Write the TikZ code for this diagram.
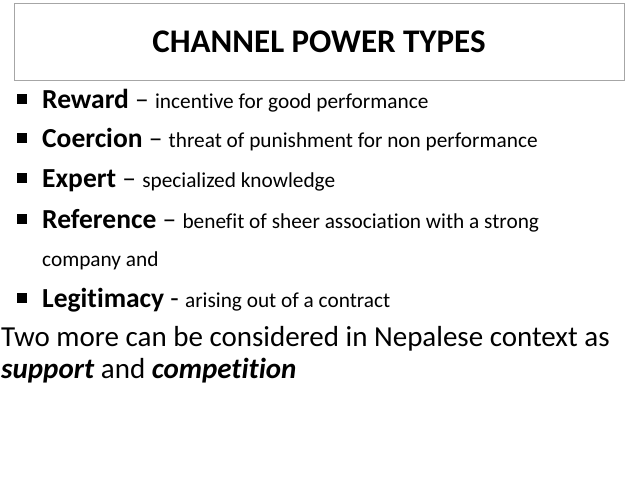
\documentclass[tikz,border=0pt]{standalone}
\usepackage{fontspec}
\setmainfont[RawFeature={-liga;-dlig;-clig}]{Carlito}
\begin{document}
\begin{tikzpicture}[x=1pt,y=-1pt,
  big/.style={anchor=base west,inner sep=0pt,font=\fontsize{27.5}{30}\selectfont},
  small/.style={anchor=base west,inner sep=0pt,font=\fontsize{21.3}{24}\selectfont},
  bul/.style={fill=black,minimum size=9.5pt,inner sep=0pt}]
\useasboundingbox (0,0) rectangle (638,479);
\node[draw=gray!70,line width=0.8pt,minimum width=610pt,minimum height=77pt,inner sep=0pt] (box) at (319,42) {};
\node[font=\fontsize{33}{36}\selectfont\bfseries] (title) at (box.center) {CHANNEL POWER TYPES};
\foreach \n/\y in {1/108,2/147,3/187,4/228,5/307}{\node[bul] (b\n) at (22,\y-9) {};}
\node[big] (r) at (42,108) {\textbf{Reward} – {\fontsize{21.3}{24}\selectfont incentive for good performance}};
\node[big] (c) at (42,147) {\textbf{Coercion} – {\fontsize{21.3}{24}\selectfont threat of punishment for non performance}};
\node[big] (e) at (42,187) {\textbf{Expert} – {\fontsize{21.3}{24}\selectfont specialized knowledge}};
\node[big] (f) at (42,228) {\textbf{Reference} – {\fontsize{21.3}{24}\selectfont benefit of sheer association with a strong}};
\node[small] (f2) at (42,266) {company and};
\node[big] (l) at (42,307) {\textbf{Legitimacy} - {\fontsize{21.3}{24}\selectfont arising out of a contract}};
\node[big,font=\fontsize{29}{32}\selectfont] (t1) at (1,346) {Two more can be considered in Nepalese context as};
\node[big,font=\fontsize{29}{32}\selectfont] (t2) at (1,378) {\textbf{\textit{support}} and \textbf{\textit{competition}}};
\end{tikzpicture}
\end{document}
